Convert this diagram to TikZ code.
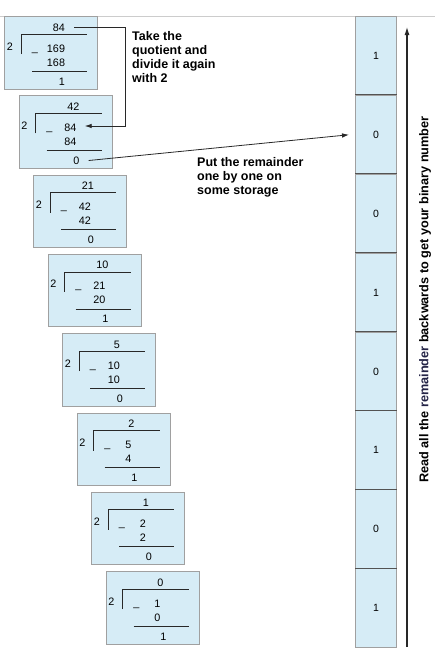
\documentclass[tikz,border=0pt]{standalone}
\usepackage{fontspec}
\setmainfont{Liberation Sans}
\usetikzlibrary{arrows.meta}
\definecolor{boxfill}{RGB}{214,236,246}
\definecolor{boxline}{RGB}{160,160,160}
\definecolor{inkline}{RGB}{40,40,40}
\definecolor{remblue}{RGB}{35,35,70}
\tikzset{
  divbox/.style={draw=boxline, fill=boxfill, line width=0.9pt, minimum width=93pt, minimum height=72.5pt, inner sep=0pt, anchor=north west},
  num/.style={inner sep=0pt, anchor=base, font=\fontsize{10.8}{12}\selectfont},
  ln/.style={draw=inkline, line width=0.8pt},
  cellbox/.style={draw=boxline, fill=boxfill, line width=0.9pt, minimum width=41pt, minimum height=78.875pt, inner sep=0pt, anchor=north west, font=\fontsize{10.5}{12}\selectfont},
  note/.style={inner sep=0pt, anchor=north west, align=left, font=\bfseries\fontsize{12.5}{14}\selectfont},
  arr/.style={draw=inkline, line width=0.8pt, -{Latex[length=7pt,width=4.5pt]}},
}
\begin{document}
\begin{tikzpicture}[x=1pt,y=-1pt]
\useasboundingbox (0,0) rectangle (435,653);
\draw[gray!40, line width=0.8pt] (0,16) -- (435,16);
% division boxes
\foreach \i/\q/\d/\s/\r in {0/84/169/168/1,1/42/84/84/0,2/21/42/42/0,3/10/21/20/1,4/5/10/10/0,5/2/5/4/1,6/1/2/2/0,7/0/1/0/1}{
  \begin{scope}[shift={(4+14.5*\i,16+79.3*\i)}]
    \node[divbox] (b\i) at (0,0) {};
    \node[num] (q\i) at (55,15) {\q};
    \node[num] (v\i) at (6,34) {2};
    \node[num] (m\i) at (31,35) {\_};
    \node[num] (d\i) at (52,36) {\d};
    \node[num] (s\i) at (52,50) {\s};
    \node[num] (r\i) at (58,69) {\r};
    \draw[ln] (17,38) -- (17,18) -- (83,18);
    \draw[ln] (28,55) -- (83,55);
  \end{scope}
}
% storage column
\foreach \k/\v in {0/1,1/0,2/0,3/1,4/0,5/1,6/0,7/1}{
  \node[cellbox] (c\k) at (355,16+78.875*\k) {\v};
}
\foreach \k in {1,...,7}{
  \draw[draw=inkline!80, line width=0.9pt] (c\k.north west) -- (c\k.north east);
}
% arrows
\coordinate (t1) at (125,27);
\coordinate (t2) at (125,126);
\draw[arr] ([xshift=9pt]q0.east |- 0,27) -- (t1) -- (t2) -- ([xshift=8pt]d1.east |- 0,126);
\draw[arr] ([xshift=9pt]r1.east |- 0,160.5) -- ([xshift=-6pt]c1.west);
% notes
\node[note] (n1) at (132,31) {Take the\\quotient and\\divide it again\\with 2};
\node[note] (n2) at (197,157) {Put the remainder\\one by one on\\some storage};
% read arrow
\coordinate (ra) at (407,647);
\coordinate (rb) at (407,27);
\draw[draw=inkline, line width=1.1pt, -{Latex[length=8pt,width=5pt]}] (ra) -- (rb);
\node[inner sep=0pt, rotate=90, font=\bfseries\fontsize{12.7}{14}\selectfont] (rt) at (425,299.5) {Read all the {\color{remblue}remainder} backwards to get your binary number};
\end{tikzpicture}
\end{document}
